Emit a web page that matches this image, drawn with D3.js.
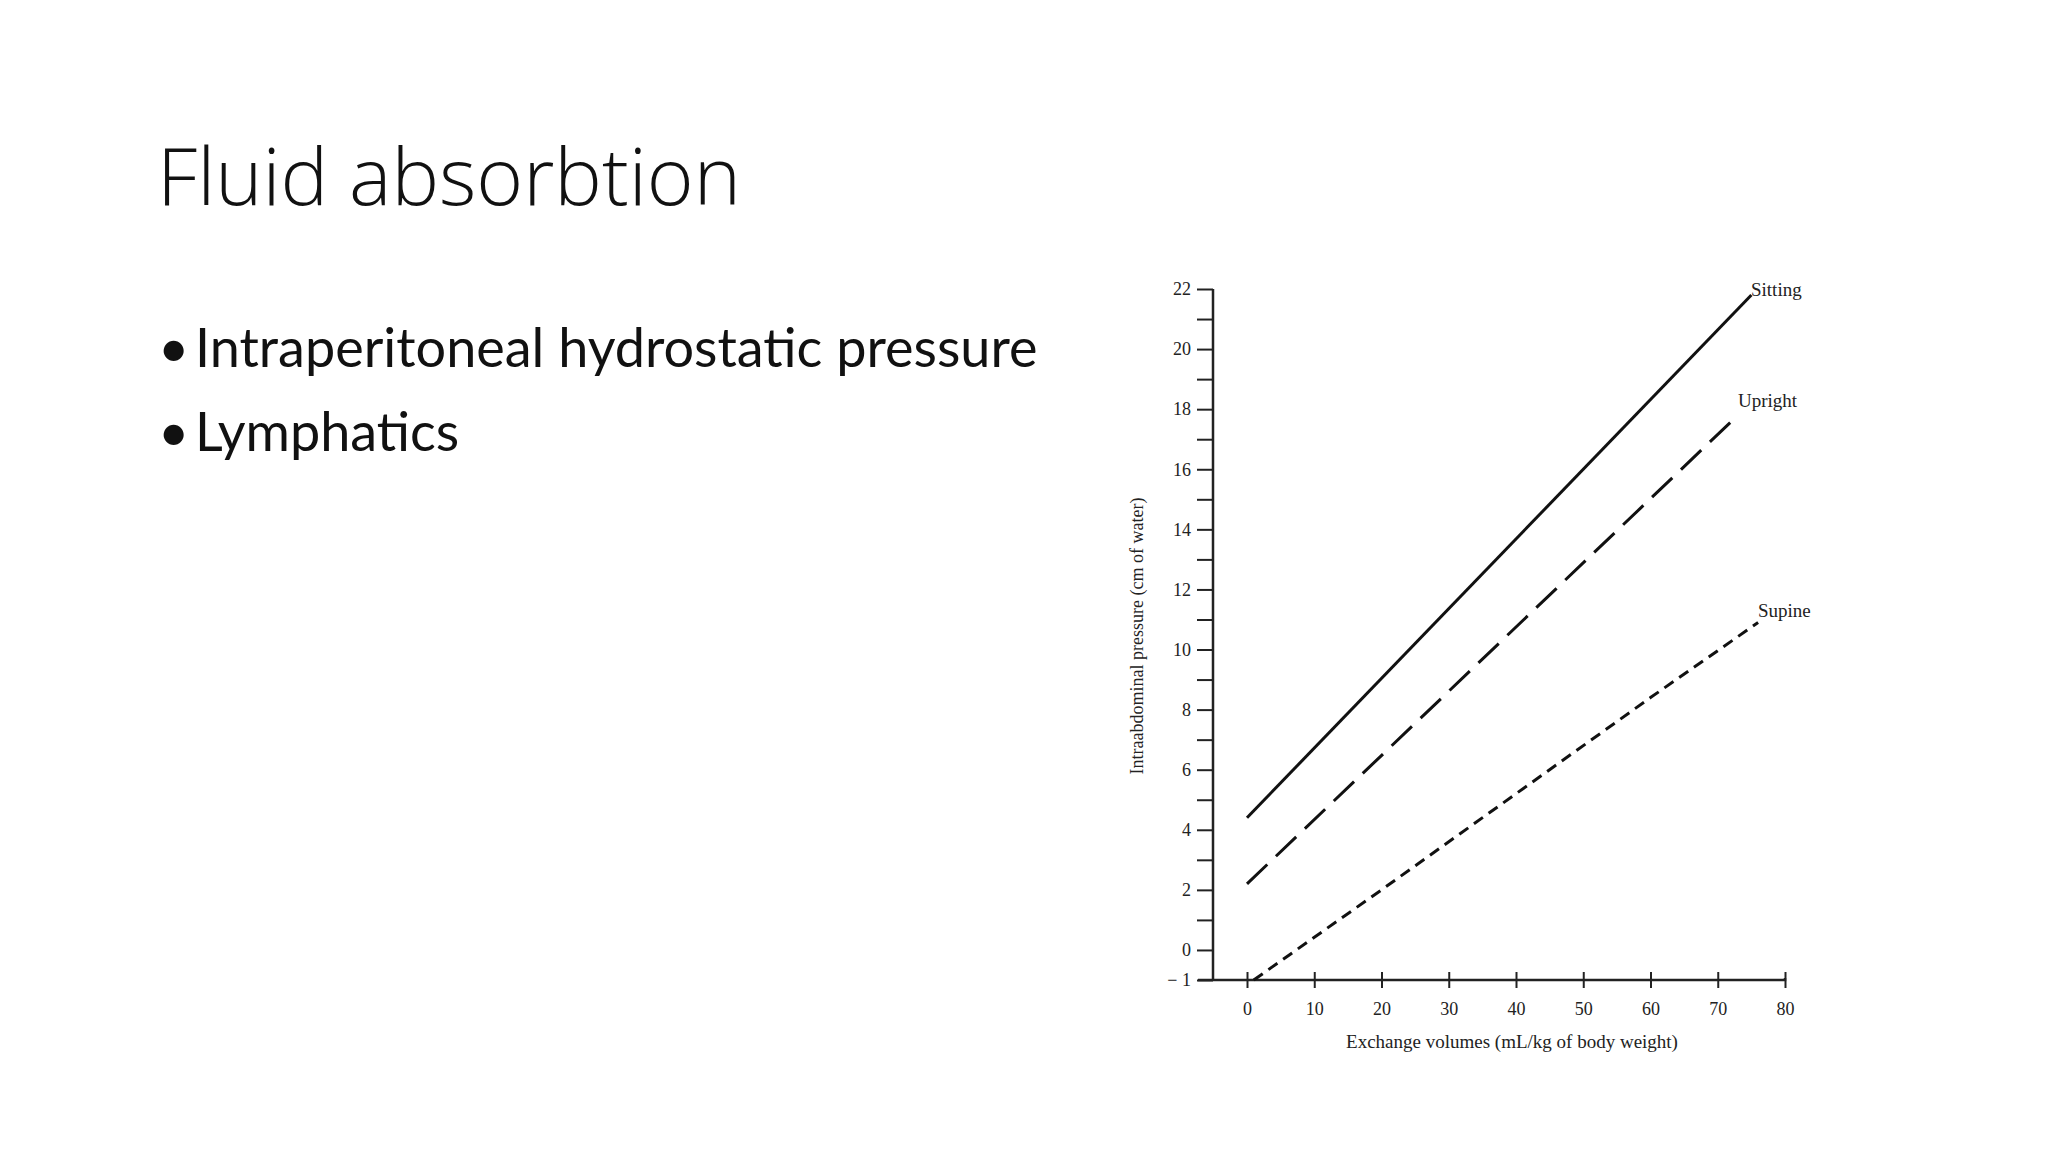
<!DOCTYPE html>
<html><head><meta charset="utf-8">
<script src="https://cdn.jsdelivr.net/npm/d3@7"></script>
<style>body{margin:0;background:#fff}</style></head>
<body><svg id="c" width="2048" height="1152"></svg>
<script>
const title = "Fluid absorbtion";
const bullets = ["Intraperitoneal hydrostatic pressure", "Lymphatics"];
const xTicks = [0,10,20,30,40,50,60,70,80];
const yTicks = [-1,0,2,4,6,8,10,12,14,16,18,20,22];
const sitting = [[0,4.4],[75,21.8]];
const upright = [[0,2.2],[73,17.8]];
const supine = [[1,-1],[20,2],[40,5.2],[60,8.4],[76,10.9]];
const seriesNames = ["Sitting","Upright","Supine"];

const svg = d3.select("#c");
svg.append("text").attr("x",157).attr("y",205).attr("font-family","Open Sans").attr("font-weight",300)
  .attr("font-size",80).attr("fill","#111").text(title);
bullets.forEach((b,i)=>{
  const y = 367 + i*84;
  svg.append("text").attr("x",158).attr("y",y).attr("font-family","Lato").attr("font-size",54).attr("fill","#111").text("•");
  svg.append("text").attr("x",195).attr("y",y).attr("font-family","Lato").attr("font-size",54).attr("fill","#111").text(b);
});

const x = d3.scaleLinear().domain([0,80]).range([1247,1785]);
const y = d3.scaleLinear().domain([-1,22]).range([980,289]);
const font = "Liberation Serif";
const g = svg.append("g").attr("font-family",font).attr("fill","#222");
// axes
const ya = svg.append("g").attr("transform","translate(1213,0)")
  .call(d3.axisLeft(y).tickValues(d3.range(-1,23)).tickSize(16).tickFormat(d=>yTicks.includes(d)?(d<0?"− "+(-d):d):""));
ya.select(".domain").attr("d","M0,289V980").attr("stroke","#222").attr("stroke-width",2.5);
ya.selectAll(".tick line").attr("stroke","#222").attr("stroke-width",2);
ya.selectAll(".tick text").attr("font-family",font).attr("font-size",18).attr("fill","#222").attr("x",-22);
const xa = svg.append("g").attr("transform","translate(0,980)")
  .call(d3.axisBottom(x).tickValues(xTicks).tickSize(10).tickPadding(12));
xa.select(".domain").attr("d","M1198,0H1785V-2").attr("stroke","#222").attr("stroke-width",2.5);
xa.selectAll(".tick line").attr("stroke","#222").attr("stroke-width",2).attr("y1",-8).attr("y2",8);
xa.selectAll(".tick text").attr("font-family",font).attr("font-size",18).attr("fill","#222");
g.append("text").attr("transform","translate(1143,636) rotate(-90)").attr("text-anchor","middle").attr("font-size",18).text("Intraabdominal pressure (cm of water)");
g.append("text").attr("x",1512).attr("y",1048).attr("text-anchor","middle").attr("font-size",19).text("Exchange volumes (mL/kg of body weight)");

const line = d3.line().x(d=>x(d[0])).y(d=>y(d[1]));
const sets = [[sitting,null],[upright,"28,12"],[supine,"11,7"]];
sets.forEach(([d,dash])=>{
  svg.append("path").attr("d",line(d)).attr("fill","none").attr("stroke","#111").attr("stroke-width",3)
    .attr("stroke-dasharray",dash);
});
const labelPos = [[sitting,[1751,296]],[upright,[1738,407]],[supine,[1758,617]]];
seriesNames.forEach((n,i)=>{
  const p = labelPos[i][1];
  g.append("text").attr("x",p[0]).attr("y",p[1]).attr("font-size",19).text(n);
});
</script></body></html>
